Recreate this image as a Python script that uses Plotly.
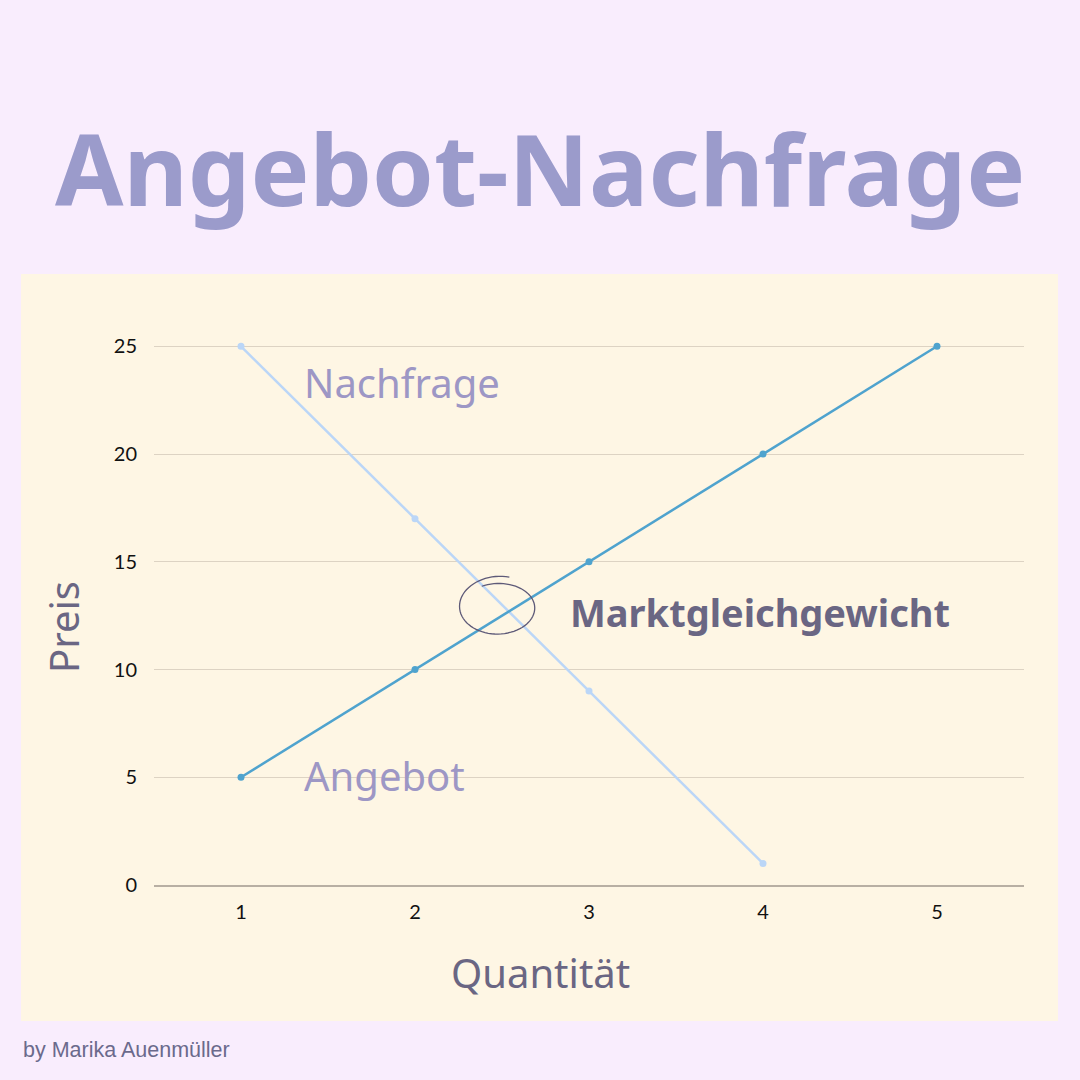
import math
import plotly.graph_objects as go

# Data
quantity_supply = [1, 2, 3, 4, 5]
price_supply = [5, 10, 15, 20, 25]
quantity_demand = [1, 2, 3, 4]
price_demand = [25, 17, 9, 1]
x_ticks = [1, 2, 3, 4, 5]
y_ticks = [0, 5, 10, 15, 20, 25]

BG = "#F9EDFD"
PANEL = "#FEF6E4"
TITLE_C = "#9B9BCB"
LABEL_C = "#9D97C5"
DARK_C = "#6A6683"

# plot-area geometry (pixels)
L, R, T, B = 154, 1024, 342, 885
W, H = R - L, B - T
X0, X1 = 0.5, 5.5
Y0, Y1 = 0.0, 25.2


def px_to_data(px, py):
    return X0 + (px - L) / W * (X1 - X0), Y0 + (B - py) / H * (Y1 - Y0)


def paper(px, py):
    return (px - L) / W, (B - py) / H


fig = go.Figure()
fig.add_trace(go.Scatter(
    x=quantity_demand, y=price_demand, mode="lines+markers",
    line=dict(color="#BBD6F7", width=2.5), marker=dict(size=7, color="#BBD6F7"),
    cliponaxis=False, showlegend=False, hoverinfo="skip"))
fig.add_trace(go.Scatter(
    x=quantity_supply, y=price_supply, mode="lines+markers",
    line=dict(color="#4FA3CE", width=2.5), marker=dict(size=7, color="#4FA3CE"),
    cliponaxis=False, showlegend=False, hoverinfo="skip"))

# Panel background
px0, py0 = paper(21, 1021)
px1, py1 = paper(1058, 274)
fig.add_shape(type="rect", xref="paper", yref="paper", layer="below",
              x0=px0, x1=px1, y0=py0, y1=py1,
              fillcolor=PANEL, line=dict(width=0))

# Hand-drawn loop around equilibrium (decorative)
pts = []
n = 80
for i in range(n + 1):
    t = i / n
    ang = math.radians(-75 - 400 * t)
    rx = 40 - 4 * t
    ry = 30 - 6 * t
    cx, cy = 499 - 2 * t, 606 + 2 * t
    px = cx + rx * math.cos(ang)
    py = cy + ry * math.sin(ang)
    pts.append(px_to_data(px, py))
path = "M " + " L ".join(f"{a:.4f},{b:.4f}" for a, b in pts)
fig.add_shape(type="path", xref="x", yref="y", layer="above", path=path,
              line=dict(color="#5E5A78", width=1.3))

fig.add_annotation(text="Nachfrage", x=paper(302, 0)[0], y=paper(0, 382)[1],
                   xref="paper", yref="paper", xanchor="left", yanchor="middle",
                   showarrow=False, font=dict(family="Noto Sans", size=40, color=LABEL_C))
fig.add_annotation(text="Angebot", x=paper(302, 0)[0], y=paper(0, 775)[1],
                   xref="paper", yref="paper", xanchor="left", yanchor="middle",
                   showarrow=False, font=dict(family="Noto Sans", size=40, color=LABEL_C))
fig.add_annotation(text="<b>Marktgleichgewicht</b>", x=paper(568, 0)[0], y=paper(0, 612)[1],
                   xref="paper", yref="paper", xanchor="left", yanchor="middle",
                   showarrow=False, font=dict(family="Noto Sans", size=38, color=DARK_C))

# Axis titles
fig.add_annotation(text="Quantität", x=paper(540, 0)[0], y=paper(0, 972)[1],
                   xref="paper", yref="paper", xanchor="center", yanchor="middle",
                   showarrow=False, font=dict(family="Noto Sans", size=40, color=DARK_C))
fig.add_annotation(text="Preis", x=paper(63, 0)[0], y=paper(0, 627)[1], textangle=-90,
                   xref="paper", yref="paper", xanchor="center", yanchor="middle",
                   showarrow=False, font=dict(family="Noto Sans", size=40, color=DARK_C))

# Title
fig.add_annotation(text="<b>Angebot-Nachfrage</b>", x=paper(540, 0)[0], y=paper(0, 168)[1],
                   xref="paper", yref="paper", xanchor="center", yanchor="middle",
                   showarrow=False, font=dict(family="Noto Sans", size=99, color=TITLE_C))
# Footer
fig.add_annotation(text="by Marika Auenmüller", x=paper(21, 0)[0], y=paper(0, 1050)[1],
                   xref="paper", yref="paper", xanchor="left", yanchor="middle",
                   showarrow=False,
                   font=dict(family="Liberation Sans", size=21.5, color="#6B6A8C"))

fig.update_layout(
    width=1080, height=1080,
    margin=dict(l=L, r=1080 - R, t=T, b=1080 - B),
    paper_bgcolor=BG, plot_bgcolor="rgba(0,0,0,0)",
    xaxis=dict(range=[X0, X1], tickvals=x_ticks, showgrid=False, zeroline=False,
               showline=True, linecolor="#B8AFA3", linewidth=1.5,
               tickfont=dict(family="Lato", size=20, color="#111111"),
               ticks="", ticklabelstandoff=8),
    yaxis=dict(range=[Y0, Y1], tickvals=y_ticks, showgrid=True, gridcolor="#DDD3C3",
               gridwidth=1, zeroline=False, showline=False,
               tickfont=dict(family="Lato", size=20, color="#111111"),
               ticks="", ticklabelstandoff=16),
)

fig.write_html("out.html", config={"displayModeBar": False},
               post_script="document.body.style.margin='0';document.body.style.padding='0';"
                           "document.documentElement.style.background='" + BG + "';")
